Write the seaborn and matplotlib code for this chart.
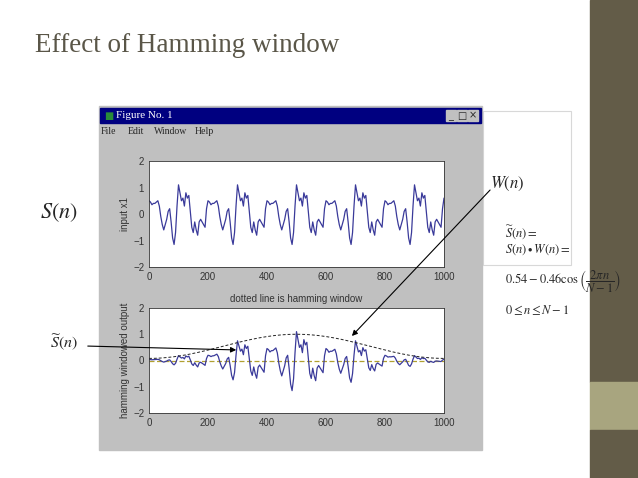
import numpy as np
import pandas as pd
import matplotlib
matplotlib.use("Agg")
import matplotlib.pyplot as plt
from matplotlib.patches import Rectangle
import seaborn as sns

sns.set_style("white")
plt.rcParams["mathtext.fontset"] = "stix"
plt.rcParams["font.family"] = ["Liberation Sans", "DejaVu Sans"]

# one ~200-sample period of the input signal read every 5 samples
period_vals = [0.5, 0.45, 0.35, 0.4, 0.4, 0.45, 0.5, 0.3, -0.1, -0.4,
               -0.6, -0.4, -0.2, 0.1, 0.2, -0.3, -0.9, -1.15, -0.7, 0.3,
               1.1, 0.8, 0.5, 0.6, 0.3, 0.8, 0.6, 0.7, 0.1, -0.5,
               -0.7, -0.3, -0.6, -0.8, -0.3, -0.2, -0.3, -0.4, -0.5, 0.2]
n_periods = 5
step = 5
x_ticks = [0, 200, 400, 600, 800, 1000]
y_ticks = [-2, -1, 0, 1, 2]

signal = np.array(period_vals * n_periods + [0.6])
n = np.arange(len(signal)) * step
N = n[-1] + 1
window = 0.54 - 0.46 * np.cos(2 * np.pi * n / (N - 1))  # formula shown on slide
windowed = signal * window
df = pd.DataFrame({"n": n, "x": signal, "w": window, "y": windowed})

W, H = 638, 478
fig = plt.figure(figsize=(W / 100, H / 100), dpi=100)
fig.patch.set_facecolor("white")

def box(x0, y0, x1, y1):
    return [x0 / W, 1 - y1 / H, (x1 - x0) / W, (y1 - y0) / H]

bg = fig.add_axes([0, 0, 1, 1])
bg.set_xlim(0, W); bg.set_ylim(H, 0); bg.axis("off")
bg.add_patch(Rectangle((590, 0), 48, 382, color="#635c48"))
bg.add_patch(Rectangle((590, 382), 48, 48, color="#a8a57f"))
bg.add_patch(Rectangle((590, 430), 48, 48, color="#635c48"))
bg.add_patch(Rectangle((483, 111), 88, 154, fill=False, ec="#d8d8d8", lw=0.8))
bg.add_patch(Rectangle((99, 106), 383, 344, color="#c0c0c0"))
bg.add_patch(Rectangle((100, 108), 381, 15, color="#000080"))
bg.text(104, 115.5, "\u25a0", color="#2a8a3a", fontsize=7, va="center", family="DejaVu Sans")
bg.text(116, 115.5, "Figure No. 1", color="white", fontsize=8, va="center", family="Liberation Serif")
for i, s in enumerate(["_", "\u25a1", "\u00d7"]):
    bg.add_patch(Rectangle((446 + i * 11, 110), 10, 11, color="#c0c0c0"))
    bg.text(451 + i * 11, 115.5, s, fontsize=7, ha="center", va="center", family="DejaVu Sans")
for xm, s in [(101, "File"), (128, "Edit"), (154, "Window"), (195, "Help")]:
    bg.text(xm, 131, s, fontsize=7, va="center", family="Liberation Serif")
bg.text(35, 45, "Effect of Hamming window", fontsize=19.5, color="#5a5648",
        family="Liberation Serif", va="center")
bg.text(40, 213, "$S(n)$", fontsize=16, va="center")
bg.text(50, 343, r"$\widetilde{S}(n)$", fontsize=11.5, va="center")
bg.text(490, 184, "$W(n)$", fontsize=12, va="center")
bg.text(505, 232, r"$\widetilde{S}(n) =$", fontsize=9, va="center")
bg.text(505, 250, r"$S(n) \bullet W(n) =$", fontsize=9, va="center")
bg.text(505, 281, r"$0.54 - 0.46\cos\left(\dfrac{2\pi n}{N-1}\right)$", fontsize=9, va="center")
bg.text(505, 310, r"$0 \leq n \leq N-1$", fontsize=9, va="center")

def style(ax, ylabel):
    ax.set_xlim(0, 1000); ax.set_ylim(-2, 2)
    ax.set_xticks(x_ticks); ax.set_yticks(y_ticks)
    ax.set_facecolor("white")
    ax.tick_params(labelsize=7, colors="#333333", direction="in", length=3)
    for sp in ax.spines.values():
        sp.set_color("#333333"); sp.set_linewidth(0.6)
    ax.set_xlabel(""); ax.set_ylabel(ylabel, fontsize=7, color="#333333", labelpad=2)

ax1 = fig.add_axes(box(149, 161, 444, 267))
sns.lineplot(data=df, x="n", y="x", ax=ax1, color="#3a3a9a", lw=0.9)
style(ax1, "input x1")

ax2 = fig.add_axes(box(149, 308, 444, 413))
ax2.axhline(0, color="#b0a030", lw=0.9, ls=(0, (4, 2)))
sns.lineplot(data=df, x="n", y="y", ax=ax2, color="#3a3a9a", lw=0.9)
sns.lineplot(data=df, x="n", y="w", ax=ax2, color="#222222", lw=0.7, linestyle=(0, (3, 2)))
style(ax2, "hamming windowed output")
ax2.set_title("dotted line is hamming window", fontsize=7, color="#333333", pad=4)

ov = fig.add_axes([0, 0, 1, 1])
ov.set_xlim(0, W); ov.set_ylim(H, 0); ov.axis("off"); ov.patch.set_alpha(0)
ov.annotate("", xy=(239, 350), xytext=(85, 346),
            arrowprops=dict(arrowstyle="-|>", color="black", lw=0.8, mutation_scale=8))
ov.annotate("", xy=(350, 338), xytext=(492, 188),
            arrowprops=dict(arrowstyle="-|>", color="black", lw=0.8, mutation_scale=8))

fig.savefig("out.png", dpi=100)
